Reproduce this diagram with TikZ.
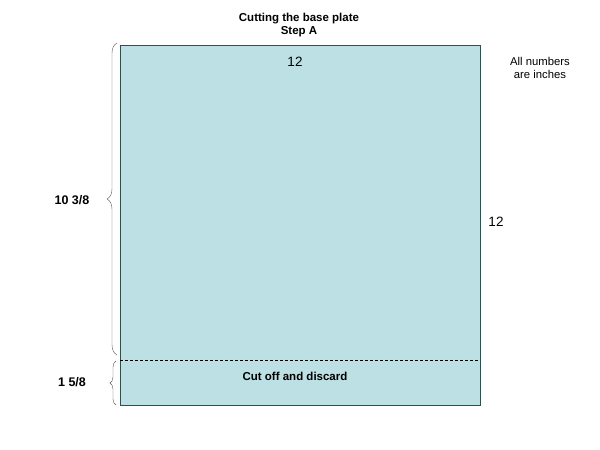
\documentclass[tikz,border=0pt]{standalone}
\usepackage{fontspec}
\setmainfont{Liberation Sans}
\usetikzlibrary{decorations.pathreplacing}
\definecolor{plate}{HTML}{BCE0E3}
\definecolor{edge}{HTML}{2F4F4F}
\begin{document}
\begin{tikzpicture}[x=1pt,y=-1pt,
  lbl/.style={inner sep=0pt,font=\fontsize{11.5}{13.5}\selectfont\bfseries,align=center},
  side/.style={inner sep=0pt,font=\fontsize{12.5}{14}\selectfont\bfseries},
  num/.style={inner sep=0pt,font=\fontsize{13.5}{15}\selectfont},
  note/.style={inner sep=0pt,font=\fontsize{11.3}{13.5}\selectfont,align=center},
  brc/.style={draw=gray!70!black,thin,decorate,decoration={brace,amplitude=#1}}]
\useasboundingbox (0,0) rectangle (600,450);
\fill[plate] (120,45) rectangle (480,405);
\draw[edge,line width=0.8pt] (120,45) rectangle (480,405);
\coordinate (cl) at (120,360.5);
\coordinate (cr) at (480,360.5);
\draw[dashed,black,line width=0.5pt,dash pattern=on 3pt off 2pt] (cl) -- (cr);
\node[lbl] (title) at (299,25) {Cutting the base plate\\Step A};
\node[num] (top) at (295,62) {12};
\node[num] (right) at (496,222) {12};
\node[note] (note) at (540,68) {All numbers\\ are inches};
\node[lbl] (cut) at (295,376) {Cut off and discard};
\coordinate (b1a) at (117,355);
\coordinate (b1b) at (117,43);
\coordinate (b2a) at (116,405);
\coordinate (b2b) at (116,361);
\draw[brc=10pt] (b1a) -- (b1b);
\draw[brc=6pt] (b2a) -- (b2b);
\node[side] (big) at (72,200) {10 3/8};
\node[side] (small) at (72,382) {1 5/8};
\end{tikzpicture}
\end{document}
